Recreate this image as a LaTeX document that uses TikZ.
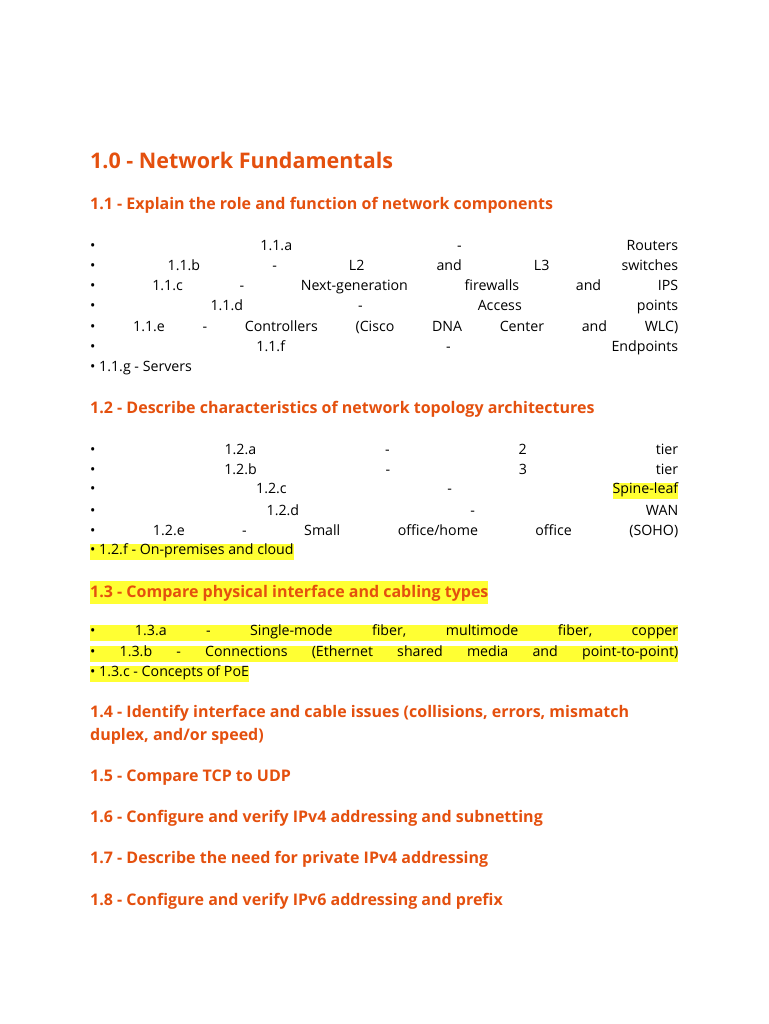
\documentclass[tikz,border=0pt]{standalone}
\usepackage{fontspec}
\setmainfont{Open Sans}
\definecolor{hd}{HTML}{E4500E}
\definecolor{hly}{HTML}{FFFF33}
\newcommand{\hlw}[1]{{\setlength\fboxsep{0pt}\colorbox{hly}{\strut #1}}}
\tikzset{
 title/.style={anchor=west,inner sep=0pt,text=hd,font=\fontsize{21.5}{25}\selectfont\bfseries},
 head/.style={anchor=west,inner sep=0pt,text=hd,font=\fontsize{16}{23}\selectfont\bfseries,align=left},
 body/.style={anchor=west,inner sep=0pt,font=\fontsize{14.2}{16}\selectfont}
}
\newcommand{\jl}[1]{\hbox to 588pt{#1}}
\begin{document}
\begin{tikzpicture}[x=1pt,y=-1pt]
\useasboundingbox (0,0) rectangle (768,1024);
\begin{scope}[yshift=-1.5pt]
\node[title] (t0) at (90,159) {1.0 - Network Fundamentals};
\node[head] (h1) at (90,204) {1.1 - Explain the role and function of network components};
\node[body] (a1) at (90,244) {\jl{•\hfill 1.1.a\hfill -\hfill Routers}};
\node[body] (a2) at (90,264) {\jl{•\hfill 1.1.b\hfill -\hfill L2\hfill and\hfill L3\hfill switches}};
\node[body] (a3) at (90,285) {\jl{•\hfill 1.1.c\hfill -\hfill Next-generation\hfill firewalls\hfill and\hfill IPS}};
\node[body] (a4) at (90,305) {\jl{•\hfill 1.1.d\hfill -\hfill Access\hfill points}};
\node[body] (a5) at (90,326) {\jl{•\hfill 1.1.e\hfill -\hfill Controllers\hfill (Cisco\hfill DNA\hfill Center\hfill and\hfill WLC)}};
\node[body] (a6) at (90,346) {\jl{•\hfill 1.1.f\hfill -\hfill Endpoints}};
\node[body] (a7) at (90,367) {• 1.1.g - Servers};
\node[head] (h2) at (90,408) {1.2 - Describe characteristics of network topology architectures};
\node[body] (b1) at (90,448) {\jl{•\hfill 1.2.a\hfill -\hfill 2\hfill tier}};
\node[body] (b2) at (90,468) {\jl{•\hfill 1.2.b\hfill -\hfill 3\hfill tier}};
\node[body] (b3) at (90,489) {\jl{•\hfill 1.2.c\hfill -\hfill \hlw{Spine-leaf}}};
\node[body] (b4) at (90,509) {\jl{•\hfill 1.2.d\hfill -\hfill WAN}};
\node[body] (b5) at (90,530) {\jl{•\hfill 1.2.e\hfill -\hfill Small\hfill office/home\hfill office\hfill (SOHO)}};
\node[body] (b6) at (90,550) {\hlw{• 1.2.f - On-premises and cloud}};
\node[head] (h3) at (90,591) {\hlw{1.3 - Compare physical interface and cabling types}};
\node[body] (c1) at (90,631) {\hlw{\jl{•\hfill 1.3.a\hfill -\hfill Single-mode\hfill fiber,\hfill multimode\hfill fiber,\hfill copper}}};
\node[body] (c2) at (90,652) {\hlw{\jl{•\hfill 1.3.b\hfill -\hfill Connections\hfill (Ethernet\hfill shared\hfill media\hfill and\hfill point-to-point)}}};
\node[body] (c3) at (90,672) {\hlw{• 1.3.c - Concepts of PoE}};
\node[head] (h4) at (90,723) {1.4 - Identify interface and cable issues (collisions, errors, mismatch\\duplex, and/or speed)};
\node[head] (h5) at (90,776) {1.5 - Compare TCP to UDP};
\node[head] (h6) at (90,817) {1.6 - Configure and verify IPv4 addressing and subnetting};
\node[head] (h7) at (90,858) {1.7 - Describe the need for private IPv4 addressing};
\node[head] (h8) at (90,900) {1.8 - Configure and verify IPv6 addressing and prefix};
\end{scope}
\end{tikzpicture}
\end{document}
